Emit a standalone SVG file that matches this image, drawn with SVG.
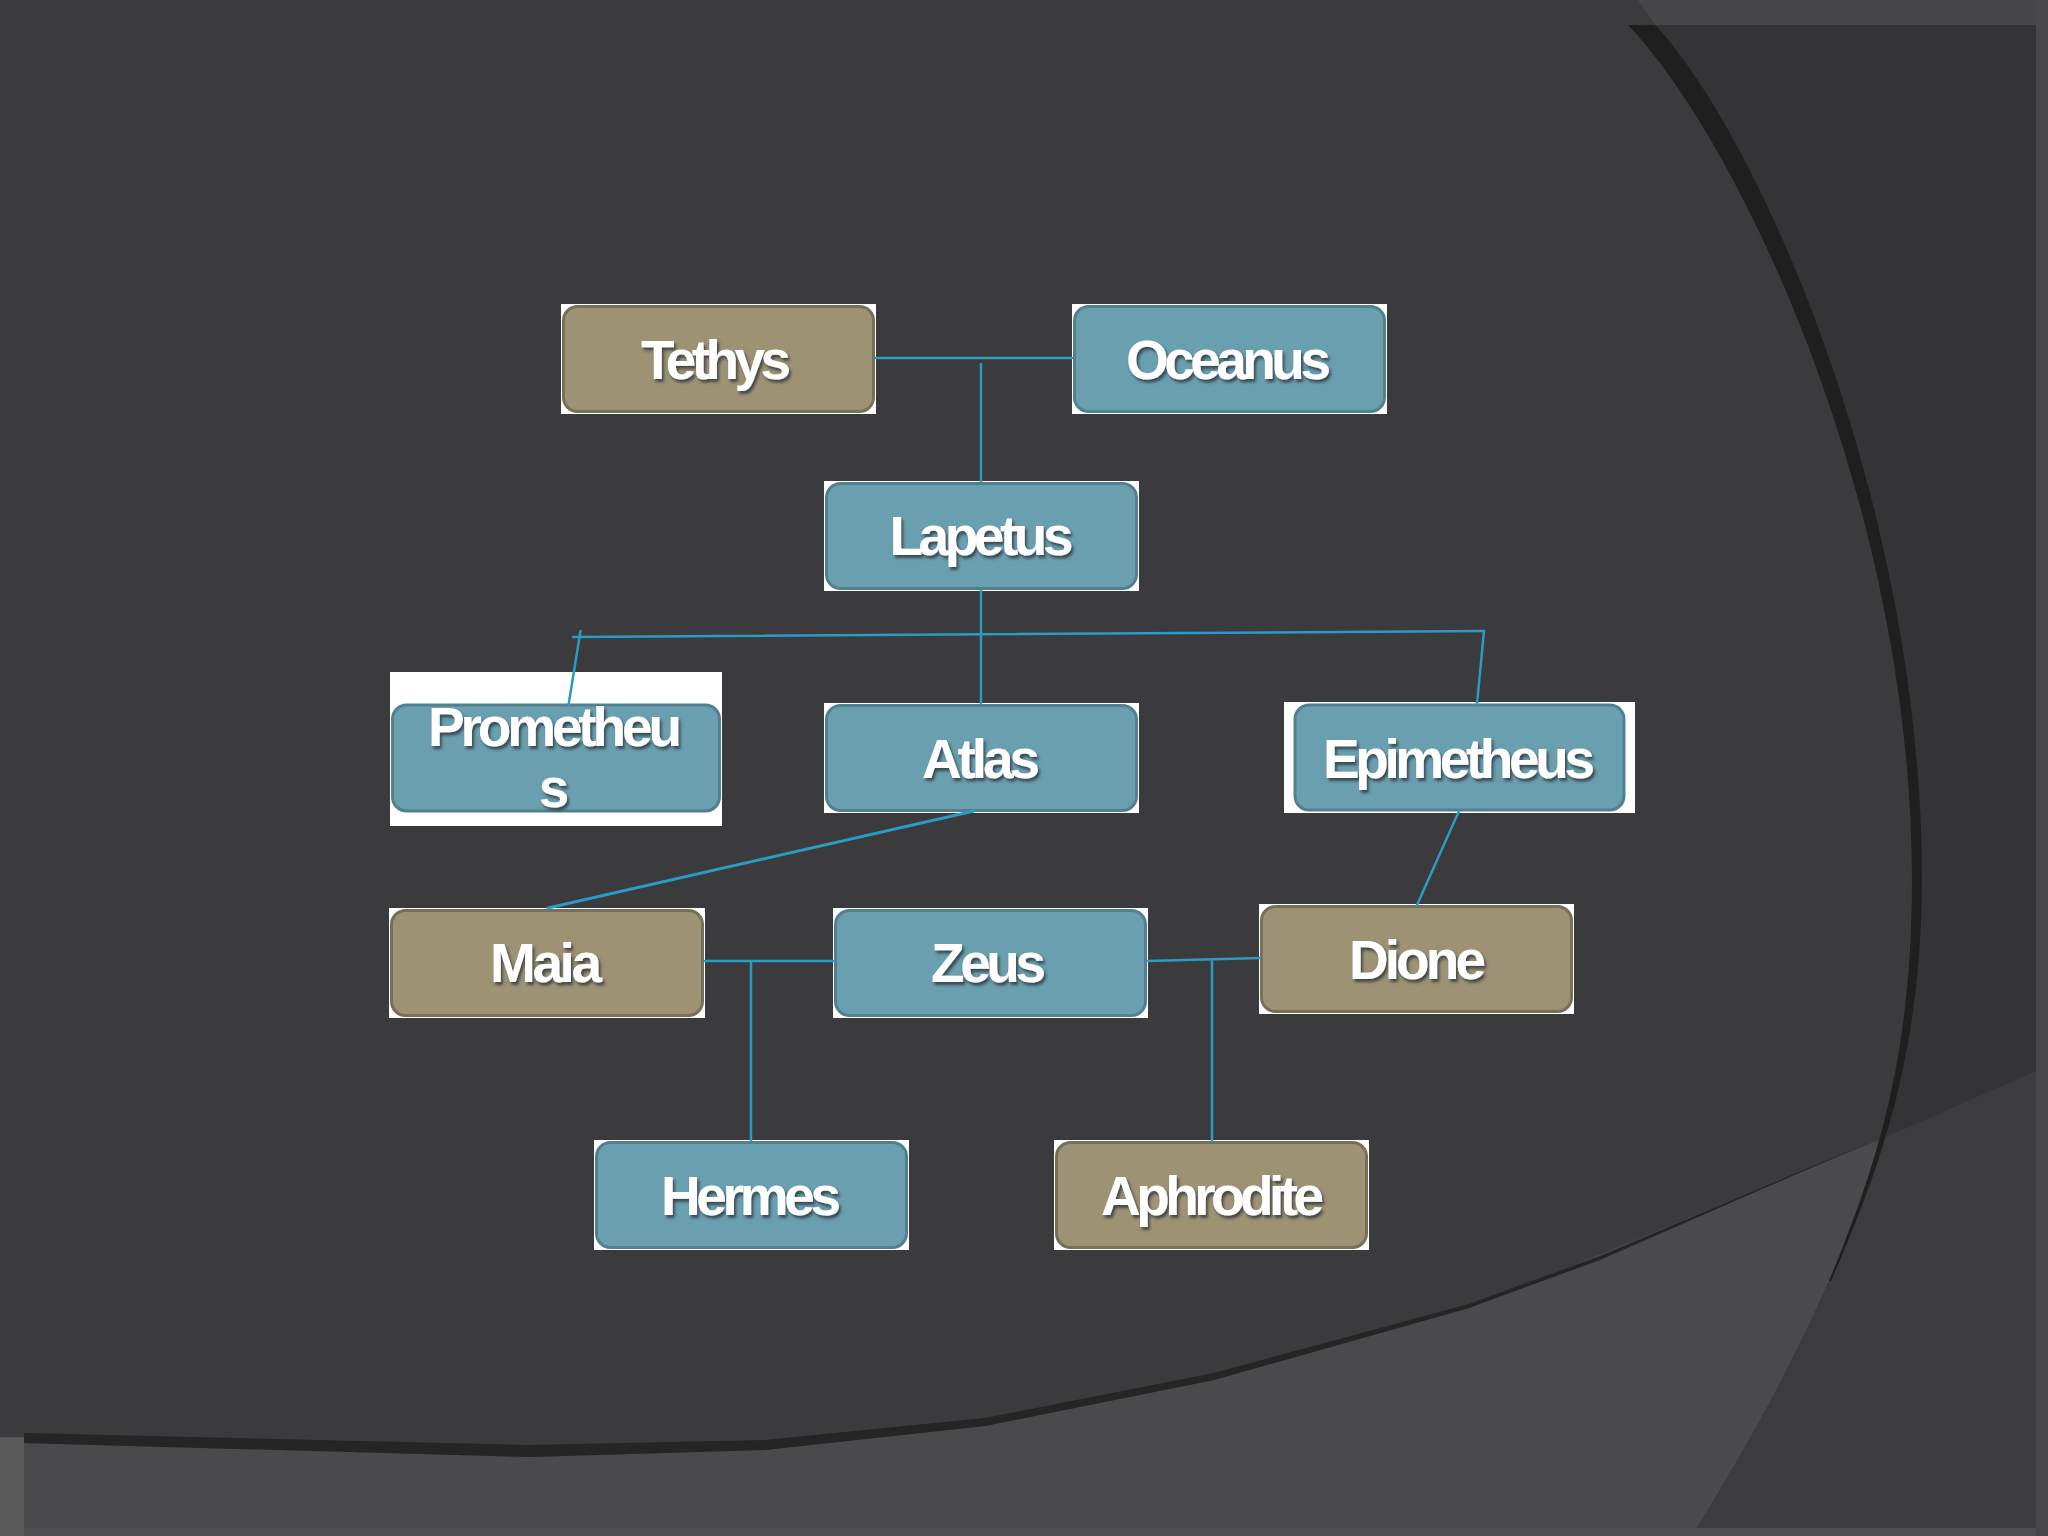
<svg xmlns="http://www.w3.org/2000/svg" width="2048" height="1536" viewBox="0 0 2048 1536">
  <defs>
    <style>
      .wb { fill: #ffffff; }
      .blue { fill: #6a9fb0; stroke: #52808f; stroke-width: 3; }
      .tan { fill: #9d9274; stroke: #767058; stroke-width: 3; }
      .lbl { font-family: "Liberation Sans", Arial, sans-serif; font-weight: bold; font-size: 55px; fill: #ffffff; text-anchor: middle; filter: url(#tshadow); }
      .conn { fill: none; stroke: #2a9bc3; stroke-width: 2.5; stroke-linecap: round; }
    </style>
    <filter id="tshadow" x="-10%" y="-20%" width="130%" height="160%">
      <feDropShadow dx="2" dy="3" stdDeviation="1.5" flood-color="#2b363b" flood-opacity="0.8"/>
    </filter>
    <clipPath id="rightClip">
      <path d="M1628,25 L2048,25 L2048,1536 L1692,1536 C1745,1450 1790,1370 1829,1281 C1880,1160 1912,1050 1912,880 C1912,500 1735,135 1628,25 Z"/>
    </clipPath>
  </defs>

  <!-- background -->
  <g id="background">
    <rect x="0" y="0" width="2048" height="1536" fill="#3b3a3c"/>
    <path d="M24,1443 L530,1457 L765,1450 L985,1426 L1214,1380 L1469,1308 L1867,1145 L2048,1066 L2048,1536 L24,1536 Z" fill="#4a494c"/>
    <path d="M1628,25 L2048,25 L2048,1536 L1692,1536 C1745,1450 1790,1370 1829,1281 C1880,1160 1912,1050 1912,880 C1912,500 1735,135 1628,25 Z" fill="#343335"/>
    <path clip-path="url(#rightClip)" d="M24,1443 L530,1457 L765,1450 L985,1426 L1214,1380 L1469,1308 L1867,1145 L2048,1066 L2048,1536 L24,1536 Z" fill="#3c3b3e"/>
    <path d="M1628,25 C1735,135 1912,500 1912,880 C1912,1050 1880,1160 1829,1281 L1831,1281 C1884,1160 1921,1050 1922,880 C1922,500 1755,130 1655,25 Z" fill="#1f1f20"/>
    <path d="M24,1433 L530,1445 L765,1440 L985,1418 L1214,1373 L1469,1304 L1600,1256 L1870,1142 L1600,1260 L1469,1308 L1214,1380 L985,1426 L765,1450 L530,1457 L24,1443 Z" fill="#252526"/>
    <path d="M1638,0 L2048,0 L2048,25 L1655,25 Z" fill="#464547"/>
    <rect x="2036" y="0" width="12" height="1536" fill="#48474a"/>
    <rect x="0" y="1437" width="24" height="99" fill="#59595a"/>
    <rect x="24" y="1528" width="2012" height="8" fill="#4e4e50"/>
  </g>

  <!-- nodes -->
  <g id="node-tethys">
    <rect class="wb" x="561" y="304" width="315" height="110"/>
    <rect class="tan" x="563.5" y="306.5" width="310" height="105" rx="14"/>
    <text class="lbl" x="716" y="379" textLength="150">Tethys</text>
  </g>
  <g id="node-oceanus">
    <rect class="wb" x="1072" y="304" width="315" height="110"/>
    <rect class="blue" x="1074.5" y="306.5" width="310" height="105" rx="14"/>
    <text class="lbl" x="1228.5" y="379" textLength="205">Oceanus</text>
  </g>
  <g id="node-lapetus">
    <rect class="wb" x="824" y="481" width="315" height="110"/>
    <rect class="blue" x="826.5" y="483.5" width="310" height="105" rx="14"/>
    <text class="lbl" x="981.5" y="555" textLength="184">Lapetus</text>
  </g>
  <g id="node-prometheus">
    <rect class="wb" x="390" y="672" width="332" height="154"/>
    <rect class="blue" x="392.5" y="705" width="327" height="106" rx="14"/>
    <text class="lbl" x="555" y="746" textLength="254">Prometheu</text>
    <text class="lbl" x="554" y="806.5">s</text>
  </g>
  <g id="node-atlas">
    <rect class="wb" x="824" y="703" width="315" height="110"/>
    <rect class="blue" x="826.5" y="705.5" width="310" height="105" rx="14"/>
    <text class="lbl" x="981" y="777.5" textLength="118">Atlas</text>
  </g>
  <g id="node-epimetheus">
    <rect class="wb" x="1284" y="702" width="351" height="111"/>
    <rect class="blue" x="1295" y="705" width="329" height="105" rx="14"/>
    <text class="lbl" x="1459" y="777.5" textLength="272">Epimetheus</text>
  </g>
  <g id="node-maia">
    <rect class="wb" x="389" y="908" width="316" height="110"/>
    <rect class="tan" x="391.5" y="910.5" width="311" height="105" rx="14"/>
    <text class="lbl" x="546" y="982" textLength="112">Maia</text>
  </g>
  <g id="node-zeus">
    <rect class="wb" x="833" y="908" width="315" height="110"/>
    <rect class="blue" x="835.5" y="910.5" width="310" height="105" rx="14"/>
    <text class="lbl" x="988.5" y="982" textLength="115">Zeus</text>
  </g>
  <g id="node-dione">
    <rect class="wb" x="1259" y="904" width="315" height="110"/>
    <rect class="tan" x="1261.5" y="906.5" width="310" height="105" rx="14"/>
    <text class="lbl" x="1417.5" y="979" textLength="137">Dione</text>
  </g>
  <g id="node-hermes">
    <rect class="wb" x="594" y="1140" width="315" height="110"/>
    <rect class="blue" x="596.5" y="1142.5" width="310" height="105" rx="14"/>
    <text class="lbl" x="751" y="1215" textLength="180">Hermes</text>
  </g>
  <g id="node-aphrodite">
    <rect class="wb" x="1054" y="1140" width="315" height="110"/>
    <rect class="tan" x="1056.5" y="1142.5" width="310" height="105" rx="14"/>
    <text class="lbl" x="1212.5" y="1215" textLength="223">Aphrodite</text>
  </g>

  <!-- connectors -->
  <g id="connectors">
    <path class="conn" d="M876,358 L1072,358"/>
    <path class="conn" d="M981,364 L981,481"/>
    <path class="conn" d="M981,591 L981,703"/>
    <path class="conn" d="M573,637 L1484,631"/>
    <path class="conn" d="M580.5,631 L568.5,705"/>
    <path class="conn" d="M1484,631 L1477,704"/>
    <path class="conn" d="M974,811 L548,908" style="stroke-width:3"/>
    <path class="conn" d="M1459,811 L1417,905"/>
    <path class="conn" d="M705,961 L834,961"/>
    <path class="conn" d="M751,961 L751,1141"/>
    <path class="conn" d="M1148,961 L1260,958"/>
    <path class="conn" d="M1212,960 L1212,1141"/>
  </g>
</svg>
